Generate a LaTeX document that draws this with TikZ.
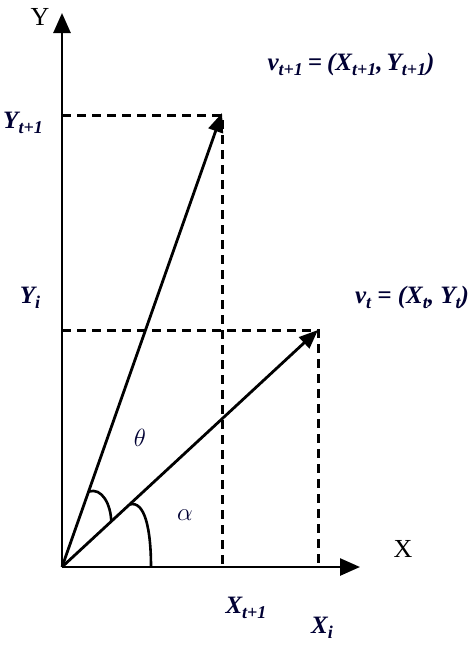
\documentclass[tikz,border=0pt]{standalone}
\usepackage{fontspec}
\setmainfont{Liberation Serif}
\usetikzlibrary{arrows.meta,calc}
\newcommand\lsub[1]{\raisebox{-0.45ex}{\fontsize{18}{20}\selectfont\itshape\bfseries #1}}
\begin{document}
\begin{tikzpicture}[x=1pt,y=-1pt,
  axis/.style={line width=2.6pt,-{Triangle[length=20pt,width=17pt]}},
  vec/.style={line width=2.8pt,-{Triangle[length=19pt,width=15pt]}},
  guide/.style={line width=3pt,dash pattern=on 9pt off 6pt},
  anglearc/.style={line width=2.6pt},
  lbl/.style={font=\fontsize{25}{27}\selectfont\itshape\bfseries, text=black!80!blue, inner sep=0pt},
  glbl/.style={font=\fontsize{25}{27}\selectfont\itshape, text=black!80!blue, inner sep=0pt},
  axlbl/.style={font=\fontsize{26}{28}\selectfont, inner sep=0pt}]
\useasboundingbox (0,0) rectangle (474,645);
\coordinate (O) at (62,567);
\coordinate (Ytop) at (62,13);
\coordinate (Xend) at (360,567);
\coordinate (A) at (222,113);
\coordinate (B) at (318,330);
\coordinate (Ay) at (62,115);
\coordinate (Ax) at (222,567);
\coordinate (By) at (62,330);
\coordinate (Bx) at (318,567);
\coordinate (Ac) at (222,115);
\coordinate (Bc) at (318,330);
% guides
\draw[guide] (Ay) -- (Ac) -- (Ax);
\draw[guide] (By) -- (Bc) -- (Bx);
% axes
\draw[axis] (O) -- (Ytop);
\draw[axis] (O) -- (Xend);
% vectors
\draw[vec] (O) -- (A);
\draw[vec] (O) -- (B);
% arcs
\coordinate (a1) at (129.5,504.5);
\coordinate (a2) at (151,567);
\coordinate (t1) at (88.6,491.6);
\coordinate (t2) at (111.2,521.5);
\draw[anglearc] (a1) .. controls (145,500) and (151,530) .. (a2);
\draw[anglearc] (t1) .. controls (102,487) and (111,505) .. (t2);
% labels
\node[axlbl] (ylab) at (40,17) {Y};
\node[axlbl] (xlab) at (403,549) {X};
\node[lbl] (yt1) at (23,123) {Y\lsub{t+1}};
\node[lbl] (yt) at (30,298) {Y\lsub{i}};
\node[lbl] (xt1) at (246,608) {X\lsub{t+1}};
\node[lbl] (xt) at (322,628) {X\lsub{i}};
\node[lbl] (vt1) at (351,64) {v\lsub{t+1}\hspace{5pt}=\hspace{5pt}(X\lsub{t+1},\hspace{4pt}Y\lsub{t+1})};
\node[lbl] (vt) at (412,297) {v\lsub{t} = (X\lsub{t}, Y\lsub{t})};
\node[glbl] (th) at (140,438) {$\theta$};
\node[glbl] (al) at (185,515) {$\alpha$};
\end{tikzpicture}
\end{document}
